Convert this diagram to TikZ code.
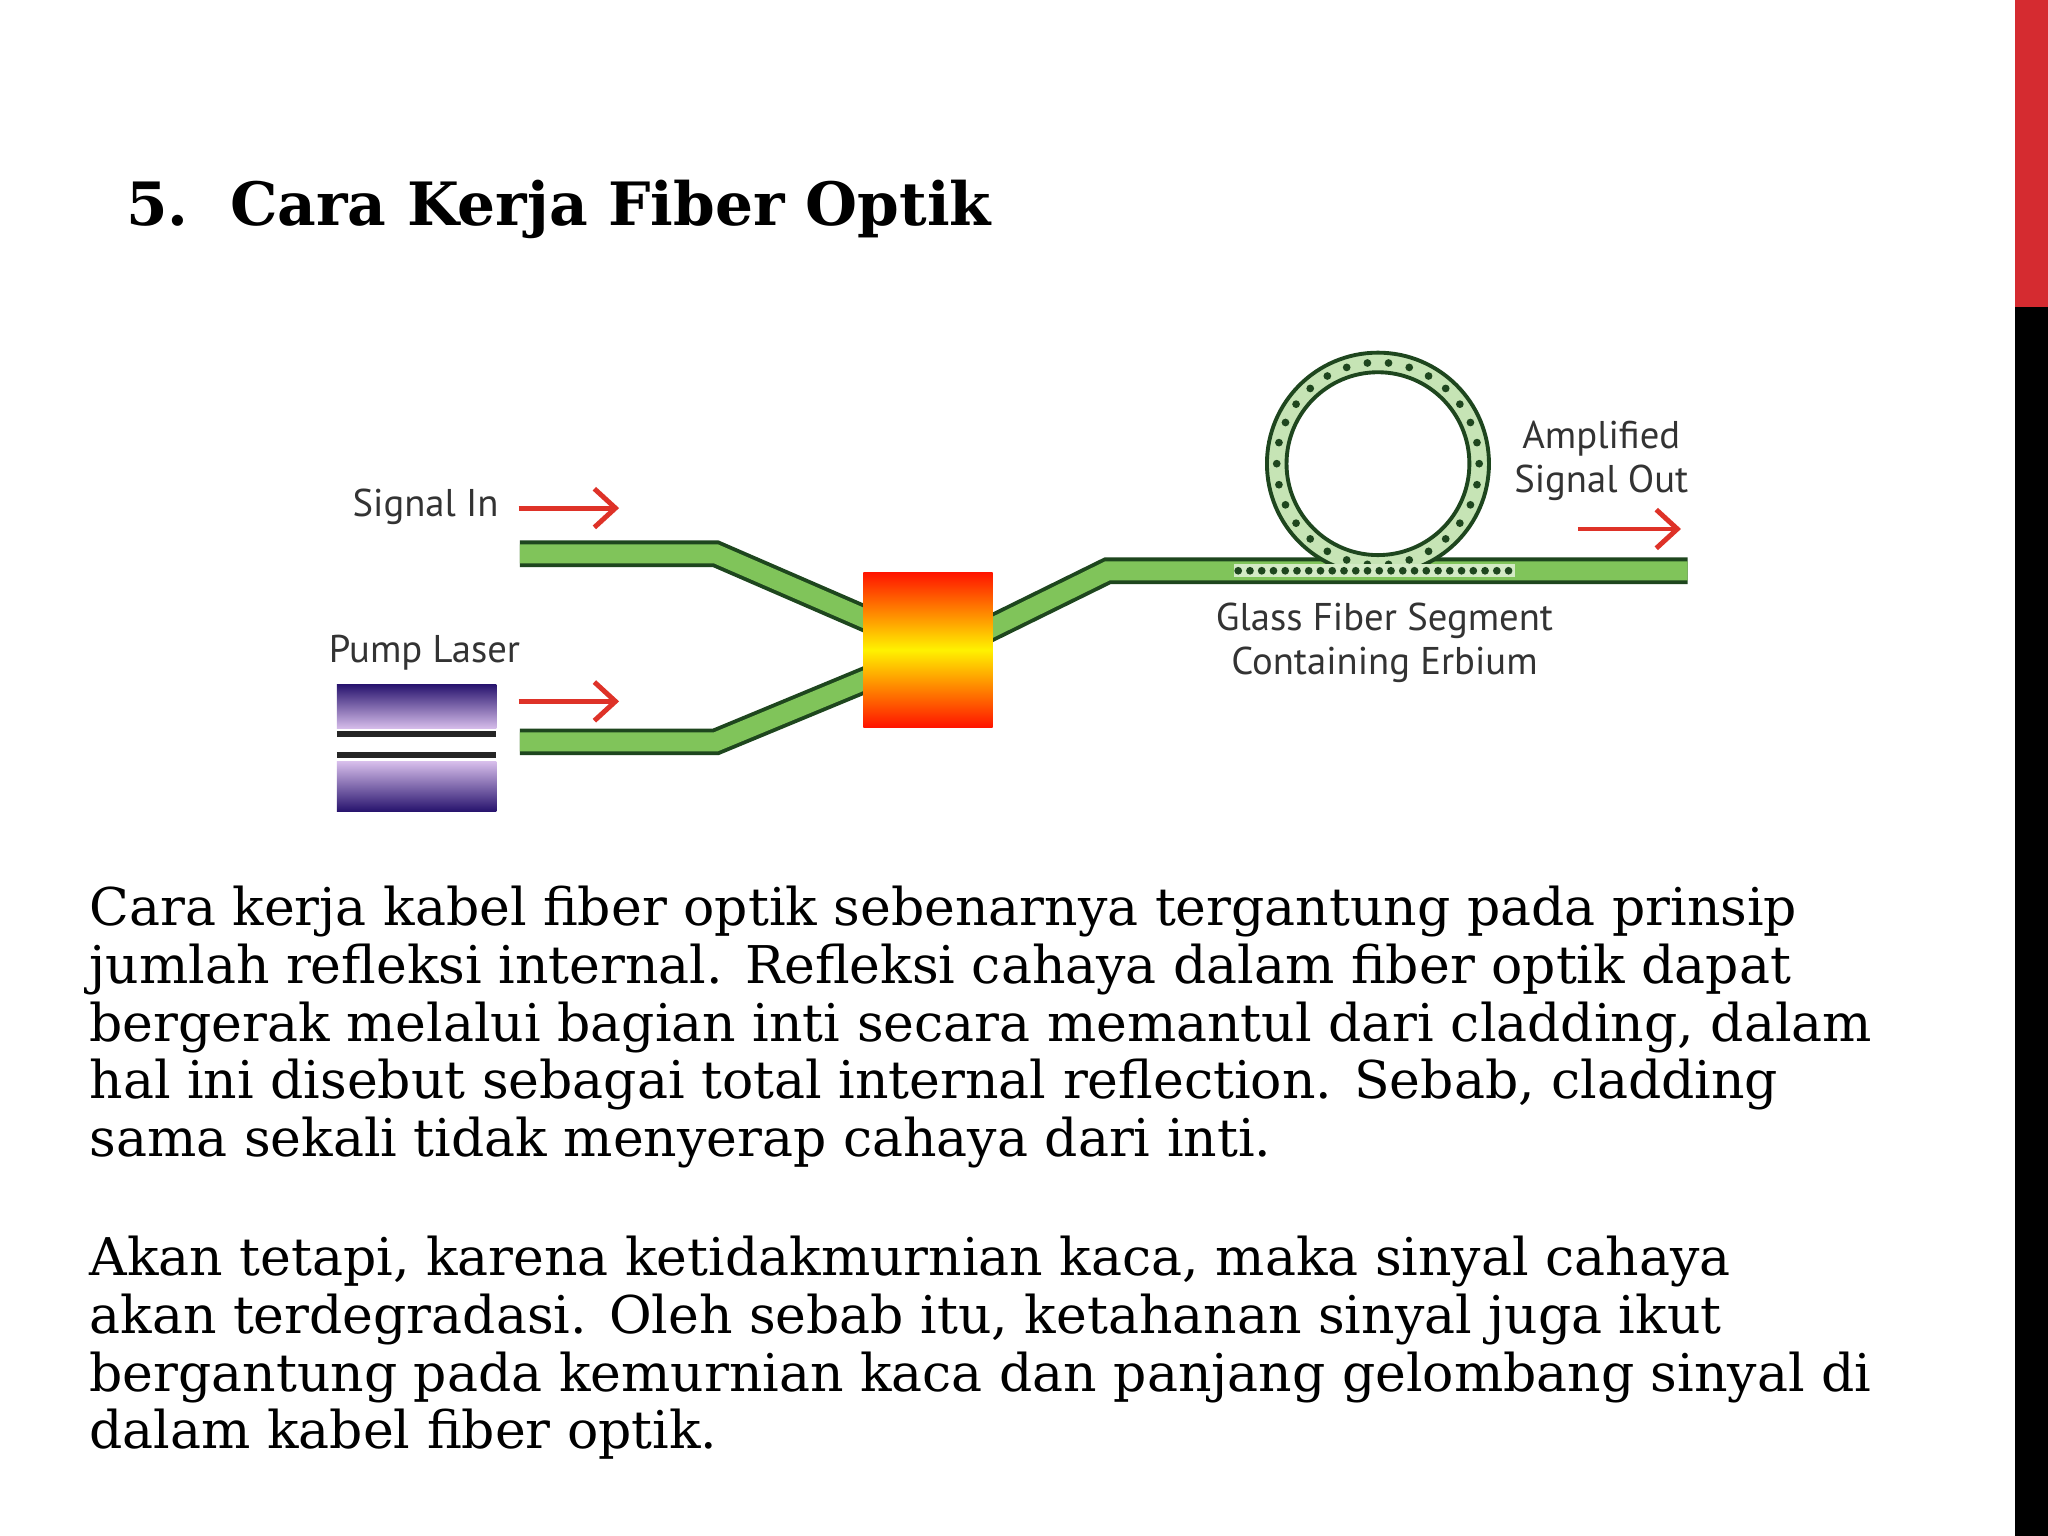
\documentclass[tikz,border=0pt]{standalone}
\usepackage{fontspec}
\setmainfont{DejaVu Serif}
\newfontfamily\labelfont{PT Sans}
\usetikzlibrary{positioning,arrows.meta}
\definecolor{fibergreen}{RGB}{128,196,90}
\definecolor{fiberdark}{RGB}{30,70,30}
\definecolor{arrowred}{RGB}{222,50,40}
\definecolor{barred}{RGB}{213,43,48}
\definecolor{laserblue}{RGB}{40,20,110}
\definecolor{laserlight}{RGB}{215,190,235}
\tikzset{
  lbl/.style={font=\labelfont\fontsize{11}{12.5}\selectfont, text=black!80, align=center, inner sep=1pt},
  redarrow/.style={arrowred, line width=1.4pt, -{Straight Barb[length=6pt,width=11pt]}},
  bodytext/.style={anchor=north west, align=left, inner sep=0, font=\fontsize{14.8}{16.4}\selectfont},
}
\begin{document}
\begin{tikzpicture}[x=0.013061cm, y=-0.013061cm]
  % Page
  \useasboundingbox (0,0) rectangle (1568,1176);
  \fill[white] (0,0) rectangle (1568,1176);
  \fill[barred] (1543,0) rectangle (1568,235);
  \fill[black] (1543,235) rectangle (1568,1176);

  % Title
  \node[anchor=west, font=\bfseries\fontsize{17}{21}\selectfont] (title) at (87,160) {5.\ \ Cara Kerja Fiber Optik};

  % Fibers (outline, then fill)
  \foreach \w/\c in {7.6pt/fiberdark, 5.4pt/fibergreen} {
    \draw[line width=\w, \c] (398,424) -- (548,424) -- (700,490);
    \draw[line width=\w, \c] (398,568) -- (548,568) -- (700,505);
    \draw[line width=\w, \c] (720,500) -- (848,437) -- (1292,437);
  }

  % Erbium ring
  \draw[fiberdark, line width=1.1pt, fill=fibergreen!45] (1055,355) circle (85);
  \draw[fiberdark, line width=1.1pt, fill=white] (1055,355) circle (70);
  \foreach \a in {0,12,...,348}
    \fill[fiberdark] ([shift={(\a:77.5)}]1055,355) circle (1.1pt);
  \fill[fibergreen!35] (945,432) rectangle (1160,442);
  \foreach \x in {948,957,...,1158}
    \fill[fiberdark] (\x,437) circle (1.1pt);

  % Coupler
  \shade[top color=red!85!orange, bottom color=red!85!orange, middle color=yellow!90!orange] (661,438) rectangle (760,557);

  % Pump laser
  \shade[top color=laserblue, bottom color=laserlight] (258,524) rectangle (380,558);
  \shade[top color=laserlight, bottom color=laserblue] (258,583) rectangle (380,621);
  \draw[line width=1.6pt, black!85] (258,562) -- (380,562);
  \draw[line width=1.6pt, black!85] (258,578) -- (380,578);

  % Labels
  \node[lbl, anchor=east] (sigin) at (385,388) {Signal In};
  \node[lbl] (pump) at (325,500) {Pump Laser};
  \node[lbl] (ampout) at (1226,353) {Amplified\\Signal Out};
  \node[lbl] (segment) at (1060,492) {Glass Fiber Segment\\Containing Erbium};

  % Arrows
  \coordinate (inA) at (397,389);  \coordinate (inB) at (474,389);
  \coordinate (pmA) at (397,537);  \coordinate (pmB) at (474,537);
  \coordinate (outA) at (1208,405); \coordinate (outB) at (1287,405);
  \draw[redarrow] (inA) -- (inB);
  \draw[redarrow] (pmA) -- (pmB);
  \draw[redarrow] (outA) -- (outB);

  % Body text
  \node[bodytext] (para1) at (68,678)
    {Cara kerja kabel fiber optik sebenarnya tergantung pada prinsip\\
     jumlah refleksi internal. Refleksi cahaya dalam fiber optik dapat\\
     bergerak melalui bagian inti secara memantul dari cladding, dalam\\
     hal ini disebut sebagai total internal reflection. Sebab, cladding\\
     sama sekali tidak menyerap cahaya dari inti.};
  \node[bodytext] (para2) at (68,946)
    {Akan tetapi, karena ketidakmurnian kaca, maka sinyal cahaya\\
     akan terdegradasi. Oleh sebab itu, ketahanan sinyal juga ikut\\
     bergantung pada kemurnian kaca dan panjang gelombang sinyal di\\
     dalam kabel fiber optik.};
\end{tikzpicture}
\end{document}
